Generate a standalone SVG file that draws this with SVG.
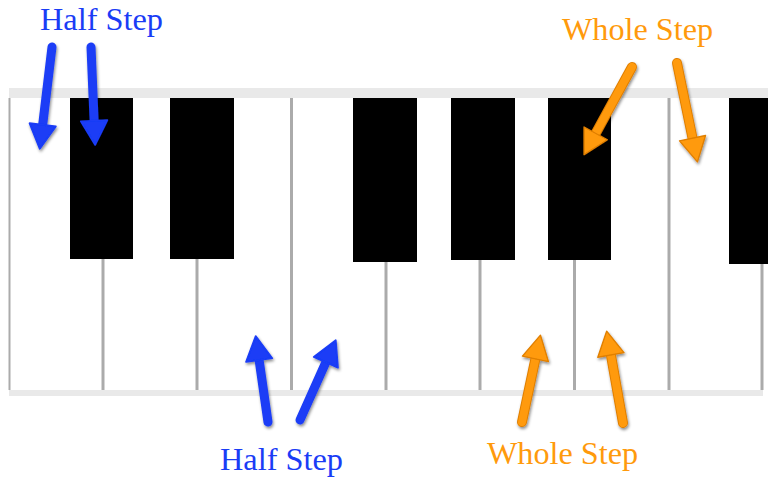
<svg xmlns="http://www.w3.org/2000/svg" width="768" height="483" viewBox="0 0 768 483">
<style>
.band{fill:#e9e9e9}
.sep{stroke:#ababab;stroke-width:3}
.bk{fill:#000}
.lbl{font-family:"Liberation Serif","Times New Roman",serif;font-size:31px}
.blue{fill:#1a3cf6}
.orange{fill:#ff9a0c}
.shaftB{stroke:#1a3cf6;stroke-width:9;stroke-linecap:round;fill:none}
.shaftOo{stroke:#e07f00;stroke-width:10;stroke-linecap:round;fill:none}
.shaftO{stroke:#ff9a0c;stroke-width:8;stroke-linecap:round;fill:none}
</style>
<defs>
<filter id="sh" x="-50%" y="-50%" width="200%" height="200%">
<feDropShadow dx="1" dy="2" stdDeviation="1.5" flood-color="#000" flood-opacity="0.45"/>
</filter>
<marker id="hb" markerUnits="userSpaceOnUse" markerWidth="30" markerHeight="30" viewBox="-2 -13 26 26" refX="2" refY="0" orient="auto">
<path d="M0,-11.5 L21,0 L0,11.5 Z" fill="#1a3cf6" stroke="#1a3cf6" stroke-width="1.5" stroke-linejoin="round"/>
</marker>
<marker id="ho" markerUnits="userSpaceOnUse" markerWidth="30" markerHeight="30" viewBox="-2 -13 26 26" refX="2" refY="0" orient="auto">
<path d="M0,-11.5 L21,0 L0,11.5 Z" fill="#ff9a0c" stroke="#e07f00" stroke-width="1.2" stroke-linejoin="round"/>
</marker>
</defs>
<rect width="768" height="483" fill="#fff"/>
<g id="keyboard">
<rect class="band" x="9" y="88" width="759" height="10"/>
<rect class="band" x="9" y="390" width="754" height="6"/>
<line class="sep" x1="9.5" y1="98" x2="9.5" y2="390" style="stroke-width:2"/>
<line class="sep" x1="103" y1="259" x2="103" y2="390"/>
<line class="sep" x1="197" y1="259" x2="197" y2="390"/>
<line class="sep" x1="291.5" y1="98" x2="291.5" y2="390"/>
<line class="sep" x1="386" y1="261" x2="386" y2="390"/>
<line class="sep" x1="480" y1="259" x2="480" y2="390"/>
<line class="sep" x1="574.5" y1="259" x2="574.5" y2="390"/>
<line class="sep" x1="669" y1="98" x2="669" y2="390"/>
<line class="sep" x1="762" y1="263" x2="762" y2="390"/>
<rect class="bk" x="70" y="98" width="63" height="161"/>
<rect class="bk" x="170" y="98" width="64" height="161"/>
<rect class="bk" x="353" y="98" width="64" height="164"/>
<rect class="bk" x="451" y="98" width="64" height="162"/>
<rect class="bk" x="548" y="98" width="63" height="162"/>
<rect class="bk" x="729" y="98" width="39" height="166"/>
</g>
<g id="connectors" filter="url(#sh)">
<line class="shaftB" x1="52" y1="47" x2="42.4" y2="127.1" marker-end="url(#hb)"/>
<line class="shaftB" x1="91" y1="47" x2="94.2" y2="123" marker-end="url(#hb)"/>
<line class="shaftB" x1="268" y1="422" x2="258.8" y2="357.8" marker-end="url(#hb)"/>
<line class="shaftB" x1="300" y1="420" x2="326.8" y2="360.2" marker-end="url(#hb)"/>
<line class="shaftOo" x1="632" y1="67" x2="594.6" y2="135.4"/>
<line class="shaftO" x1="632" y1="67" x2="594.6" y2="135.4" marker-end="url(#ho)"/>
<line class="shaftOo" x1="677" y1="63" x2="693" y2="140.4"/>
<line class="shaftO" x1="677" y1="63" x2="693" y2="140.4" marker-end="url(#ho)"/>
<line class="shaftOo" x1="522" y1="422" x2="535.9" y2="356.6"/>
<line class="shaftO" x1="522" y1="422" x2="535.9" y2="356.6" marker-end="url(#ho)"/>
<line class="shaftOo" x1="623" y1="423" x2="610.5" y2="352.7"/>
<line class="shaftO" x1="623" y1="423" x2="610.5" y2="352.7" marker-end="url(#ho)"/>
</g>
<g id="label-half-top"><text class="lbl blue" x="40" y="30" textLength="123" lengthAdjust="spacingAndGlyphs">Half Step</text></g>
<g id="label-half-bottom"><text class="lbl blue" x="220" y="470" textLength="123" lengthAdjust="spacingAndGlyphs">Half Step</text></g>
<g id="label-whole-top"><text class="lbl orange" x="562" y="40" textLength="151" lengthAdjust="spacingAndGlyphs">Whole Step</text></g>
<g id="label-whole-bottom"><text class="lbl orange" x="487" y="464" textLength="151" lengthAdjust="spacingAndGlyphs">Whole Step</text></g>
</svg>
